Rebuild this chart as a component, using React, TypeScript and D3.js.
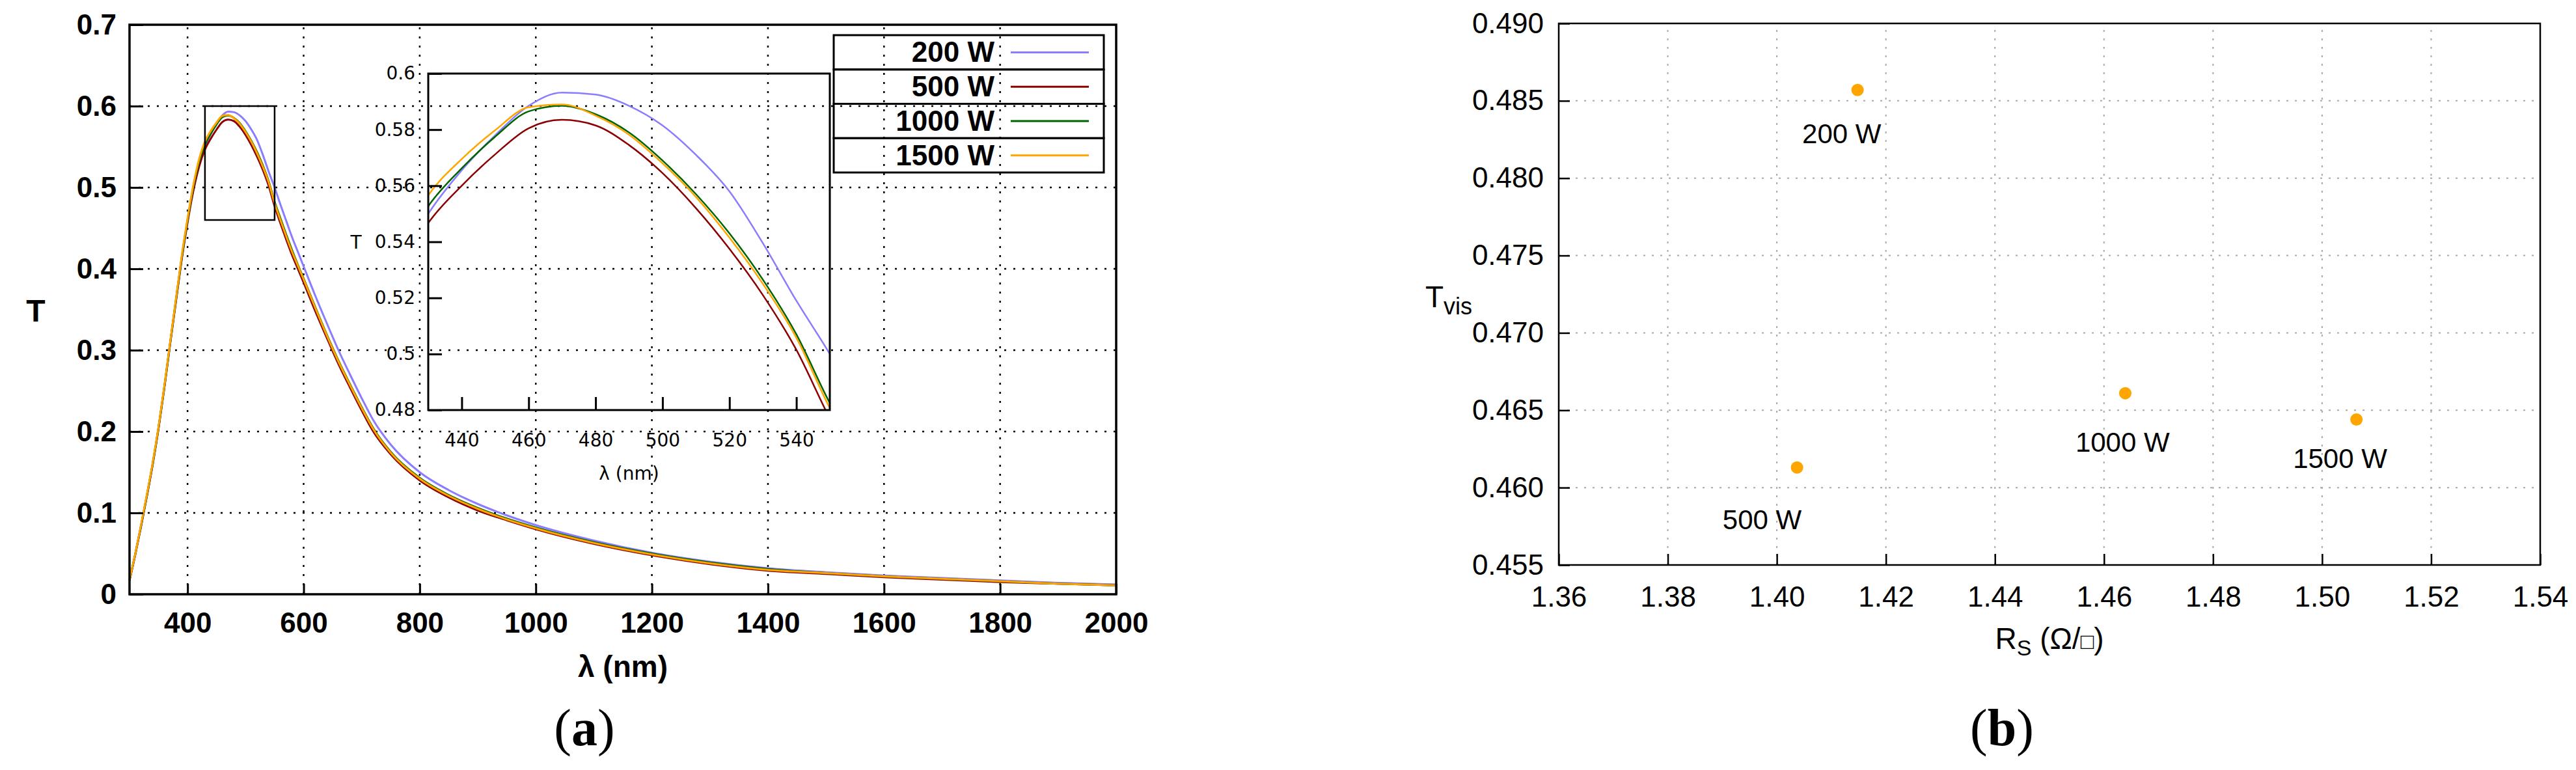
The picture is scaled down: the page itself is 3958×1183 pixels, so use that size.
import * as d3 from 'd3'
import {useRef, useEffect} from 'react'

// wavelength grid (nm) shared by all spectra
const wavelengths = [300, 310, 320, 330, 340, 350, 360, 370, 380, 390, 400, 410, 420,
  430, 440, 450, 460, 470, 480, 490, 500, 510, 520, 530, 540, 550,
  560, 570, 580, 590, 600, 620, 640, 660, 680, 700, 720, 750, 800, 850, 900, 950, 1000,
  1100, 1200, 1300, 1400, 1500, 1600, 1700, 1800, 1900, 2000]

const t200 = [0.017, 0.049, 0.084, 0.121, 0.160, 0.204, 0.254, 0.308, 0.361, 0.413, 0.459, 0.498, 0.529,
  0.550, 0.5655, 0.578, 0.5885, 0.5932, 0.5925, 0.5885, 0.5815, 0.571, 0.558, 0.5395, 0.519, 0.500,
  0.479, 0.459, 0.439, 0.421, 0.403, 0.367, 0.333, 0.300, 0.270, 0.241, 0.214, 0.184, 0.150, 0.128, 0.111, 0.097, 0.085,
  0.066, 0.051, 0.040, 0.032, 0.027, 0.023, 0.020, 0.017, 0.014, 0.012]
const t500 = [0.017, 0.049, 0.084, 0.121, 0.160, 0.204, 0.254, 0.308, 0.360, 0.412, 0.457, 0.496, 0.526,
  0.5467, 0.560, 0.5712, 0.5805, 0.5835, 0.5815, 0.5745, 0.5645, 0.552, 0.5375, 0.521, 0.5015, 0.477,
  0.456, 0.436, 0.417, 0.400, 0.383, 0.348, 0.315, 0.283, 0.254, 0.226, 0.200, 0.172, 0.140, 0.119, 0.103, 0.091, 0.080,
  0.062, 0.048, 0.037, 0.029, 0.025, 0.021, 0.018, 0.015, 0.013, 0.011]
const t1000 = [0.018, 0.050, 0.085, 0.122, 0.161, 0.205, 0.255, 0.309, 0.362, 0.414, 0.460, 0.501, 0.532,
  0.5527, 0.5662, 0.5775, 0.5865, 0.5885, 0.5855, 0.579, 0.569, 0.557, 0.543, 0.5265, 0.507, 0.4825,
  0.462, 0.442, 0.423, 0.405, 0.388, 0.353, 0.319, 0.287, 0.258, 0.230, 0.204, 0.175, 0.143, 0.122, 0.106, 0.093, 0.082,
  0.064, 0.050, 0.039, 0.031, 0.026, 0.022, 0.019, 0.016, 0.013, 0.011]
const t1500 = [0.018, 0.050, 0.086, 0.123, 0.162, 0.206, 0.256, 0.310, 0.363, 0.416, 0.462, 0.503, 0.535,
  0.5566, 0.5695, 0.5798, 0.588, 0.589, 0.585, 0.5782, 0.568, 0.556, 0.5415, 0.525, 0.5058, 0.4807,
  0.460, 0.440, 0.421, 0.404, 0.387, 0.352, 0.318, 0.286, 0.257, 0.229, 0.203, 0.174, 0.142, 0.121, 0.105, 0.092, 0.081,
  0.063, 0.049, 0.038, 0.030, 0.026, 0.022, 0.019, 0.016, 0.013, 0.011]

const seriesNames = ['200 W', '500 W', '1000 W', '1500 W']
const seriesValues = [t200, t500, t1000, t1500]
const seriesColors = ['#8a7cff', '#8b0000', '#006400', '#ffa500']

const mainXTicks = [400, 600, 800, 1000, 1200, 1400, 1600, 1800, 2000]
const mainYTicks = [0, 0.1, 0.2, 0.3, 0.4, 0.5, 0.6, 0.7]
const insetXTicks = [440, 460, 480, 500, 520, 540]
const insetYTicks = [0.48, 0.5, 0.52, 0.54, 0.56, 0.58, 0.6]
const zoomWindow = {x0: 430, x1: 550, y0: 0.46, y1: 0.6}

// panel (b)
const sheetRes = [1.4148, 1.4037, 1.4639, 1.5063]
const tVis = [0.4857, 0.4613, 0.4661, 0.4644]
const labelRs = [1.4119, 1.3973, 1.4634, 1.5033]
const labelT = [0.48226, 0.45733, 0.46233, 0.46128]
const rsTicks = [1.36, 1.38, 1.40, 1.42, 1.44, 1.46, 1.48, 1.50, 1.52, 1.54]
const tvisTicks = [0.455, 0.460, 0.465, 0.470, 0.475, 0.480, 0.485, 0.490]

const W = 3958
const H = 1183

const styleAxis = (g: any, family: string, size: number, weight: string, tickWidth: number) => {
  g.select('.domain').remove()
  g.attr('font-family', family).attr('font-size', size).attr('font-weight', weight)
  g.selectAll('text').attr('fill', '#000')
  g.selectAll('line').attr('stroke', '#000').attr('stroke-width', tickWidth)
}

export default function App() {
  const svgRef = useRef(null)

  const draw = (): void => {
    const SVG = d3.select(svgRef.current)
    SVG.selectAll('*').remove()
    SVG.attr('width', W).attr('height', H)
    SVG.append('rect').attr('width', W).attr('height', H).attr('fill', '#fff')

    // ---------- panel (a) ----------
    const x = d3.scaleLinear().domain([300, 2000]).range([199, 1715])
    const y = d3.scaleLinear().domain([0, 0.7]).range([913, 38])
    const sans = 'Liberation Sans, Arial, sans-serif'

    const grid = SVG.append('g')
    grid.selectAll('line.h').data(mainYTicks.slice(1, -1)).enter().append('line')
      .attr('x1', x(300)).attr('x2', x(2000))
      .attr('y1', (d: number) => y(d)).attr('y2', (d: number) => y(d))
      .attr('stroke', '#000').attr('stroke-width', 2.5).attr('stroke-dasharray', '3,11')
    grid.selectAll('line.v').data(mainXTicks.slice(0, -1)).enter().append('line')
      .attr('y1', y(0)).attr('y2', y(0.7))
      .attr('x1', (d: number) => x(d)).attr('x2', (d: number) => x(d))
      .attr('stroke', '#000').attr('stroke-width', 2.5).attr('stroke-dasharray', '3,11')

    const line = d3.line<number>()
      .x((d, i) => x(wavelengths[i]))
      .y(d => y(d))
      .curve(d3.curveMonotoneX)
    SVG.append('g').selectAll('path').data(seriesValues).enter().append('path')
      .attr('d', (d: number[]) => line(d))
      .attr('fill', 'none')
      .attr('stroke', (d: number[], i: number) => seriesColors[i])
      .attr('stroke-width', 3)

    SVG.append('g').attr('transform', `translate(${x(300)},0)`)
      .call(d3.axisLeft(y).tickValues(mainYTicks).tickSize(-21).tickPadding(20).tickFormat((d: any) => d3.format('')(d)))
      .call((g: any) => styleAxis(g, sans, 44, 'bold', 3))
    SVG.append('g').attr('transform', `translate(0,${y(0)})`)
      .call(d3.axisBottom(x).tickValues(mainXTicks).tickSize(-16).tickPadding(28).tickFormat((d: any) => d3.format('')(d)))
      .call((g: any) => styleAxis(g, sans, 44, 'bold', 3))

    SVG.append('rect')
      .attr('x', x(300)).attr('y', y(0.7))
      .attr('width', x(2000) - x(300)).attr('height', y(0) - y(0.7))
      .attr('fill', 'none').attr('stroke', '#000').attr('stroke-width', 3.5)

    // zoom window
    SVG.append('rect')
      .attr('x', x(zoomWindow.x0)).attr('y', y(zoomWindow.y1))
      .attr('width', x(zoomWindow.x1) - x(zoomWindow.x0))
      .attr('height', y(zoomWindow.y0) - y(zoomWindow.y1))
      .attr('fill', 'none').attr('stroke', '#000').attr('stroke-width', 2.5)

    SVG.append('text').text('T')
      .attr('x', 55).attr('y', 494).attr('text-anchor', 'middle')
      .attr('font-family', sans).attr('font-size', 48).attr('font-weight', 'bold')
    SVG.append('text').text('λ (nm)')
      .attr('x', (x(300) + x(2000)) / 2).attr('y', 1040).attr('text-anchor', 'middle')
      .attr('font-family', sans).attr('font-size', 46).attr('font-weight', 'bold')

    // inset
    const xi = d3.scaleLinear().domain([430, 550]).range([658, 1275])
    const yi = d3.scaleLinear().domain([0.48, 0.6]).range([630, 113])
    const dejavu = 'DejaVu Sans, sans-serif'

    SVG.append('clipPath').attr('id', 'insetClip')
      .append('rect').attr('x', xi(430)).attr('y', yi(0.6))
      .attr('width', xi(550) - xi(430)).attr('height', yi(0.48) - yi(0.6))

    const lineInset = d3.line<number>()
      .x((d, i) => xi(wavelengths[i]))
      .y(d => yi(d))
      .curve(d3.curveMonotoneX)
    SVG.append('g').attr('clip-path', 'url(#insetClip)')
      .selectAll('path').data(seriesValues).enter().append('path')
      .attr('d', (d: number[]) => lineInset(d))
      .attr('fill', 'none')
      .attr('stroke', (d: number[], i: number) => seriesColors[i])
      .attr('stroke-width', 2.5)

    SVG.append('g').attr('transform', `translate(${xi(430)},0)`)
      .call(d3.axisLeft(yi).tickValues(insetYTicks).tickSize(-21).tickPadding(20).tickFormat((d: any) => d3.format('')(d)))
      .call((g: any) => styleAxis(g, dejavu, 28, 'normal', 3))
    SVG.append('g').attr('transform', `translate(0,${yi(0.48)})`)
      .call(d3.axisBottom(xi).tickValues(insetXTicks).tickSize(-20).tickPadding(36).tickFormat((d: any) => d3.format('')(d)))
      .call((g: any) => styleAxis(g, dejavu, 28, 'normal', 3))

    SVG.append('rect')
      .attr('x', xi(430)).attr('y', yi(0.6))
      .attr('width', xi(550) - xi(430)).attr('height', yi(0.48) - yi(0.6))
      .attr('fill', 'none').attr('stroke', '#000').attr('stroke-width', 3)

    SVG.append('text').text('T')
      .attr('x', 547).attr('y', 382).attr('text-anchor', 'middle')
      .attr('font-family', dejavu).attr('font-size', 28)
    SVG.append('text').text('λ (nm)')
      .attr('x', (xi(430) + xi(550)) / 2).attr('y', 737).attr('text-anchor', 'middle')
      .attr('font-family', dejavu).attr('font-size', 28)

    // legend
    const legX0 = 1281
    const legX1 = 1696
    const legY0 = 54
    const rowH = 52.75
    const legend = SVG.append('g')
    seriesNames.forEach((name, i) => {
      const top = legY0 + i * rowH
      legend.append('rect')
        .attr('x', legX0).attr('y', top).attr('width', legX1 - legX0).attr('height', rowH)
        .attr('fill', 'none').attr('stroke', '#000').attr('stroke-width', 3)
      legend.append('text').text(name)
        .attr('x', 1528).attr('y', top + rowH / 2 + 15).attr('text-anchor', 'end')
        .attr('font-family', sans).attr('font-size', 44).attr('font-weight', 'bold')
      legend.append('line')
        .attr('x1', 1553).attr('x2', 1673).attr('y1', top + rowH / 2).attr('y2', top + rowH / 2)
        .attr('stroke', seriesColors[i]).attr('stroke-width', 3)
    })

    // ---------- panel (b) ----------
    const xr = d3.scaleLinear().domain([1.36, 1.54]).range([2395, 3903])
    const yr = d3.scaleLinear().domain([0.455, 0.49]).range([868, 36])

    const gridB = SVG.append('g')
    gridB.selectAll('line.h').data(tvisTicks.slice(1, -1)).enter().append('line')
      .attr('x1', xr(1.36)).attr('x2', xr(1.54))
      .attr('y1', (d: number) => yr(d)).attr('y2', (d: number) => yr(d))
      .attr('stroke', '#a8a8a8').attr('stroke-width', 2).attr('stroke-dasharray', '3,10')
    gridB.selectAll('line.v').data(rsTicks.slice(1, -1)).enter().append('line')
      .attr('y1', yr(0.455)).attr('y2', yr(0.49))
      .attr('x1', (d: number) => xr(d)).attr('x2', (d: number) => xr(d))
      .attr('stroke', '#a8a8a8').attr('stroke-width', 2).attr('stroke-dasharray', '3,10')

    SVG.append('g').attr('transform', `translate(${xr(1.36)},0)`)
      .call(d3.axisLeft(yr).tickValues(tvisTicks).tickSize(-17).tickPadding(23).tickFormat(d3.format('.3f') as any))
      .call((g: any) => styleAxis(g, sans, 44, 'normal', 2.5))
    SVG.append('g').attr('transform', `translate(0,${yr(0.455)})`)
      .call(d3.axisBottom(xr).tickValues(rsTicks).tickSize(-17).tickPadding(33).tickFormat(d3.format('.2f') as any))
      .call((g: any) => styleAxis(g, sans, 44, 'normal', 2.5))

    SVG.append('rect')
      .attr('x', xr(1.36)).attr('y', yr(0.49))
      .attr('width', xr(1.54) - xr(1.36)).attr('height', yr(0.455) - yr(0.49))
      .attr('fill', 'none').attr('stroke', '#000').attr('stroke-width', 2.5)

    SVG.append('g').selectAll('circle').data(sheetRes).enter().append('circle')
      .attr('cx', (d: number) => xr(d))
      .attr('cy', (d: number, i: number) => yr(tVis[i]))
      .attr('r', 9.5)
      .attr('fill', '#ffa500')

    SVG.append('g').selectAll('text').data(seriesNames).enter().append('text')
      .text((d: string) => d)
      .attr('x', (d: string, i: number) => xr(labelRs[i]))
      .attr('y', (d: string, i: number) => yr(labelT[i]))
      .attr('text-anchor', 'middle')
      .attr('font-family', sans).attr('font-size', 42)

    const yTitle = SVG.append('text')
      .attr('x', 2190).attr('y', 472)
      .attr('font-family', sans).attr('font-size', 46)
    yTitle.append('tspan').text('T')
    yTitle.append('tspan').text('vis').attr('font-size', 36).attr('dy', 11)

    const xTitle = SVG.append('text')
      .attr('x', (xr(1.36) + xr(1.54)) / 2).attr('y', 997).attr('text-anchor', 'middle')
      .attr('font-family', sans).attr('font-size', 46)
    xTitle.append('tspan').text('R')
    xTitle.append('tspan').text('S').attr('font-size', 34).attr('dy', 10)
    xTitle.append('tspan').text(' (Ω/').attr('dy', -10)
    xTitle.append('tspan').text('□').attr('font-size', 34)
    xTitle.append('tspan').text(')')

    // panel captions
    const captions = [{label: 'a', cx: 898}, {label: 'b', cx: 3076}]
    captions.forEach(c => {
      const t = SVG.append('text')
        .attr('x', c.cx).attr('y', 1145).attr('text-anchor', 'middle')
        .attr('font-family', 'Liberation Serif, serif').attr('font-size', 80)
      t.append('tspan').text('(')
      t.append('tspan').text(c.label).attr('font-weight', 'bold')
      t.append('tspan').text(')')
    })
  }

  useEffect((): void => draw(), [])

  return (
    <div style={{position: 'absolute', left: 0, top: 0}}>
      <svg ref={svgRef} style={{display: 'block'}}></svg>
    </div>
  )
}
